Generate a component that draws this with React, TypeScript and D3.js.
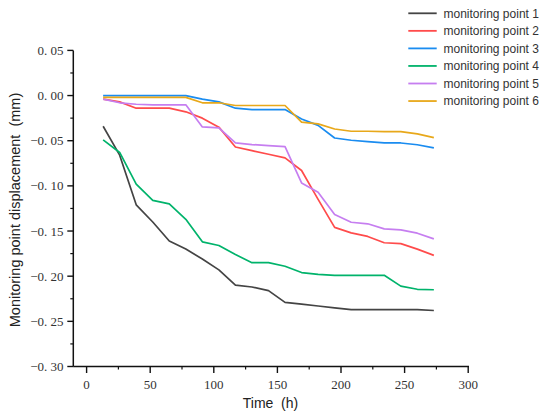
import React from "react";
import * as d3 from "d3";

// time (h)
const time = [13, 26, 39, 52, 65, 78, 91, 104, 117, 130, 143, 156, 169, 182, 195, 208, 221, 234, 247, 260, 273];

// displacement (mm) for each monitoring point
const point1 = [-0.034, -0.066, -0.121, -0.14, -0.161, -0.17, -0.181, -0.193, -0.21, -0.212, -0.216, -0.229, -0.231, -0.233, -0.235, -0.237, -0.237, -0.237, -0.237, -0.237, -0.238];
const point2 = [-0.004, -0.007, -0.014, -0.014, -0.014, -0.018, -0.025, -0.035, -0.057, -0.061, -0.065, -0.069, -0.083, -0.115, -0.146, -0.152, -0.156, -0.163, -0.164, -0.17, -0.177];
const point3 = [0, 0, 0, 0, 0, 0, -0.004, -0.007, -0.014, -0.0155, -0.0155, -0.0155, -0.026, -0.033, -0.047, -0.0495, -0.051, -0.0525, -0.0525, -0.0545, -0.058];
const point4 = [-0.049, -0.063, -0.098, -0.116, -0.12, -0.137, -0.162, -0.166, -0.176, -0.185, -0.185, -0.189, -0.196, -0.198, -0.199, -0.199, -0.199, -0.199, -0.211, -0.2145, -0.215];
const point5 = [-0.004, -0.008, -0.0096, -0.0103, -0.0103, -0.0103, -0.0347, -0.0358, -0.0524, -0.0543, -0.0554, -0.0565, -0.0967, -0.107, -0.1318, -0.1403, -0.142, -0.1476, -0.1487, -0.1524, -0.1587];
const point6 = [-0.002, -0.002, -0.002, -0.002, -0.002, -0.002, -0.008, -0.008, -0.011, -0.011, -0.011, -0.011, -0.0295, -0.0314, -0.037, -0.0395, -0.0395, -0.04, -0.04, -0.0425, -0.0465];

const seriesNames = ["monitoring point 1", "monitoring point 2", "monitoring point 3", "monitoring point 4", "monitoring point 5", "monitoring point 6"];
const seriesValues = [point1, point2, point3, point4, point5, point6];
const colors = ["#444444", "#ff4b4b", "#1a8cf0", "#00b36b", "#c67ef0", "#e8a81a"];

const xTicks = [0, 50, 100, 150, 200, 250, 300];
const yTicks = [0.05, 0, -0.05, -0.1, -0.15, -0.2, -0.25, -0.3];

const fmtY = (v: number) => {
  const s = Math.abs(v).toFixed(2).replace(".", ". ");
  return (v < -1e-9 ? "\u2212" : "") + s;
};

export default function App() {
  const x = d3.scaleLinear().domain([0, 300]).range([86.6, 468.2]);
  const y = d3.scaleLinear().domain([-0.3, 0.05]).range([366.5, 50.4]);

  const line = d3
    .line<number>()
    .x((d, i) => x(time[i]))
    .y((d) => y(d));

  const xMinor = d3.range(25, 300, 50);
  const yMinor = d3.range(-0.275, 0.05, 0.05);

  const axisY0 = 366.5;
  const axisX0 = 73.3;

  return (
    <svg width={550} height={417} style={{ position: "absolute", left: 0, top: 0, background: "#fff" }}>
      {/* data lines */}
      {seriesValues.map((vals, k) => (
        <path
          key={k}
          d={line(vals) || ""}
          fill="none"
          stroke={colors[k]}
          strokeWidth={1.7}
          strokeLinejoin="round"
        />
      ))}

      {/* y axis */}
      <line x1={axisX0} x2={axisX0} y1={y(0.05)} y2={axisY0} stroke="#111" strokeWidth={1.5} />
      {yTicks.map((t) => (
        <g key={t}>
          <line x1={axisX0 - 6} x2={axisX0} y1={y(t)} y2={y(t)} stroke="#111" strokeWidth={1.4} />
          <text
            x={63.5}
            y={y(t)}
            dy="0.35em"
            textAnchor="end"
            fontFamily="'Liberation Serif', 'DejaVu Serif', serif"
            fontSize={13}
            fill="#333"
          >
            {fmtY(t)}
          </text>
        </g>
      ))}
      {yMinor.map((t) => (
        <line key={t} x1={axisX0 - 3} x2={axisX0} y1={y(t)} y2={y(t)} stroke="#111" strokeWidth={1.2} />
      ))}

      {/* x axis */}
      <line x1={axisX0} x2={469} y1={axisY0} y2={axisY0} stroke="#111" strokeWidth={1.5} />
      {xTicks.map((t) => (
        <g key={t}>
          <line x1={x(t)} x2={x(t)} y1={axisY0} y2={axisY0 + 6.5} stroke="#111" strokeWidth={1.4} />
          <text
            x={x(t)}
            y={388.5}
            textAnchor="middle"
            fontFamily="'Liberation Serif', 'DejaVu Serif', serif"
            fontSize={13}
            fill="#333"
          >
            {t}
          </text>
        </g>
      ))}
      {xMinor.map((t) => (
        <line key={t} x1={x(t)} x2={x(t)} y1={axisY0} y2={axisY0 + 3} stroke="#111" strokeWidth={1.2} />
      ))}

      {/* axis titles */}
      <text
        x={270.5}
        y={408}
        textAnchor="middle"
        fontFamily="'Liberation Sans', Arial, sans-serif"
        fontSize={14}
        fill="#222"
        style={{ whiteSpace: "pre" }}
      >
        {"Time  (h)"}
      </text>
      <text
        transform="translate(19.5,210) rotate(-90)"
        textAnchor="middle"
        fontFamily="'Liberation Sans', Arial, sans-serif"
        fontSize={14.5}
        fill="#222"
        style={{ whiteSpace: "pre" }}
      >
        {"Monitoring point displacement  (mm)"}
      </text>

      {/* legend */}
      {seriesNames.map((name, k) => {
        const ly = 13.3 + k * 17.55;
        return (
          <g key={name}>
            <line x1={408.3} x2={436.7} y1={ly} y2={ly} stroke={colors[k]} strokeWidth={1.8} />
            <text
              x={443.5}
              y={ly}
              dy="0.35em"
              fontFamily="'Liberation Sans', Arial, sans-serif"
              fontSize={12}
              fill="#333"
            >
              {name}
            </text>
          </g>
        );
      })}
    </svg>
  );
}
